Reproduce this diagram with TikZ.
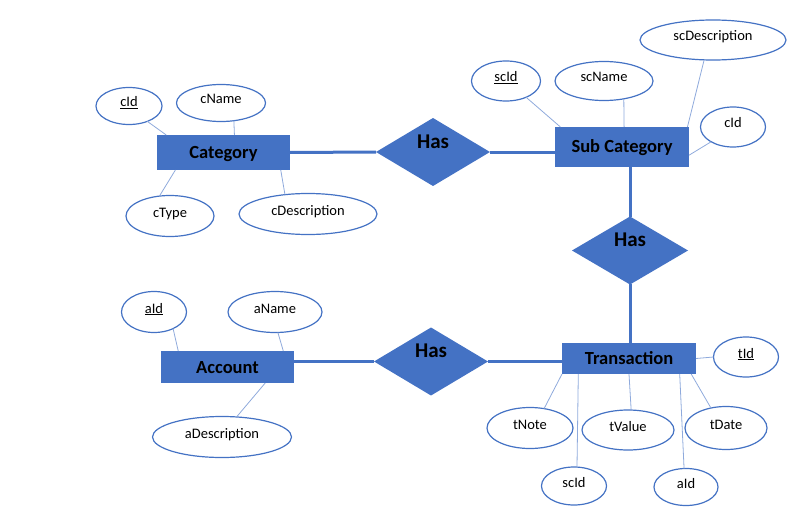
\documentclass[tikz,border=0pt]{standalone}
\usepackage{fontspec}
\setmainfont{Carlito}
\usepackage{xcolor}
\usepackage{tikz}
\usetikzlibrary{shapes.geometric}
\definecolor{erblue}{HTML}{4472C4}
\definecolor{erthin}{HTML}{8FAADC}

\begin{document}
\begin{tikzpicture}[x=1pt,y=-1pt,
    entity/.style={rectangle, fill=erblue, inner sep=0pt, outer sep=0pt,
      minimum width=133pt, font=\fontsize{18.5}{20}\selectfont\bfseries,
      text height=12pt, text depth=0pt},
    relation/.style={diamond, fill=erblue, inner sep=0pt, outer sep=0pt,
      minimum width=114pt, minimum height=62pt,
      font=\fontsize{21}{24}\selectfont\bfseries,
      text height=14pt, text depth=22pt},
    attr/.style={ellipse, draw=erblue, line width=1.2pt, fill=white,
      inner sep=0pt, outer sep=0pt, font=\fontsize{14.5}{16}\selectfont,
      text height=10pt, text depth=8pt},
    link/.style={erblue, line width=3pt},
    attrline/.style={erthin, line width=0.8pt}]
    \useasboundingbox (0,0) rectangle (800,524);
    %
    \node[entity, minimum height=35pt] (category) at (223.5,152.5) {Category};
    \node[entity, minimum width=134pt, minimum height=40pt] (subcat) at (622,147) {Sub Category};
    \node[entity, minimum width=134pt, minimum height=31pt] (transaction) at (629,358.5) {Transaction};
    \node[entity, minimum height=32pt] (account) at (227.5,367) {Account};
    %
    \node[relation] (hasone) at (433,152) {Has};
    \node[relation, minimum width=116pt, minimum height=63pt] (hastwo) at (630,250.5) {Has};
    \node[relation, minimum height=63pt] (hasthree) at (431,361.5) {Has};
    %
    \draw[link] (category.east) -- (hasone.west);
    \draw[link] (hasone.east) -- (hasone.east -| subcat.west);
    \draw[link] (hastwo.north |- subcat.south) -- (hastwo.north);
    \draw[link] (hastwo.south) -- (hastwo.south |- transaction.north);
    \draw[link] (hasthree.west -| account.east) -- (hasthree.west);
    \draw[link] (hasthree.east) -- (hasthree.east -| transaction.west);
    %
    \node[attr, minimum width=66pt, minimum height=37pt] (cid) at (129,106) {\underline{cId}};
    \node[attr, minimum width=89pt, minimum height=37pt] (cname) at (221,103) {cName};
    \node[attr, minimum width=88pt, minimum height=41pt] (ctype) at (170,216) {cType};
    \node[attr, minimum width=138pt, minimum height=41pt] (cdesc) at (308,214) {cDescription};
    \draw[attrline] (cid.-40) -- (category.163.6);
    \draw[attrline] (cname.-54) -- (category.58);
    \draw[attrline] (ctype.118) -- (category.200);
    \draw[attrline] (cdesc.140) -- (category.-17);
    %
    \node[attr, minimum width=69pt, minimum height=40pt] (scid) at (506,81) {\underline{scId}};
    \node[attr, minimum width=98pt, minimum height=39pt] (scname) at (604,81) {scName};
    \node[attr, minimum width=146pt, minimum height=40pt] (scdesc) at (713,40) {scDescription};
    \node[attr, minimum width=65pt, minimum height=40pt] (sccid) at (733,127) {cId};
    \draw[attrline] (scid.-39) -- (subcat.162);
    \draw[attrline] (scname.-42) -- (subcat.84);
    \draw[attrline] (scdesc.246) -- (subcat.17.5);
    \draw[attrline] (sccid.214) -- (subcat.-7);
    %
    \node[attr, minimum width=65pt, minimum height=40pt] (tid) at (746,357) {\underline{tId}};
    \node[attr, minimum width=86pt, minimum height=41pt] (tnote) at (530,428) {tNote};
    \node[attr, minimum width=92pt, minimum height=40pt] (tvalue) at (628,430) {tValue};
    \node[attr, minimum width=82pt, minimum height=43pt] (tdate) at (726,428) {tDate};
    \node[attr, minimum width=65pt, minimum height=38pt] (tscid) at (574,486) {scId};
    \node[attr, minimum width=64pt, minimum height=37pt] (taid) at (686,487) {aId};
    \draw[attrline] (tid.west) -- (transaction.east);
    \draw[attrline] (tnote.54) -- (transaction.south west);
    \draw[attrline] (tscid.81) -- (transaction.197);
    \draw[attrline] (tvalue.81.5) -- (transaction.south);
    \draw[attrline] (taid.96) -- (transaction.-17.6);
    \draw[attrline] (tdate.127) -- (transaction.-14);
    %
    \node[attr, minimum width=65pt, minimum height=41pt] (aid) at (154,312) {\underline{aId}};
    \node[attr, minimum width=94pt, minimum height=41pt] (aname) at (275,312) {aName};
    \node[attr, minimum width=139pt, minimum height=41pt] (adesc) at (222,437) {aDescription};
    \draw[attrline] (aid.-41) -- (account.162);
    \draw[attrline] (aname.-82) -- (account.16.4);
    \draw[attrline] (adesc.54) -- (account.-23);
\end{tikzpicture}
\end{document}
